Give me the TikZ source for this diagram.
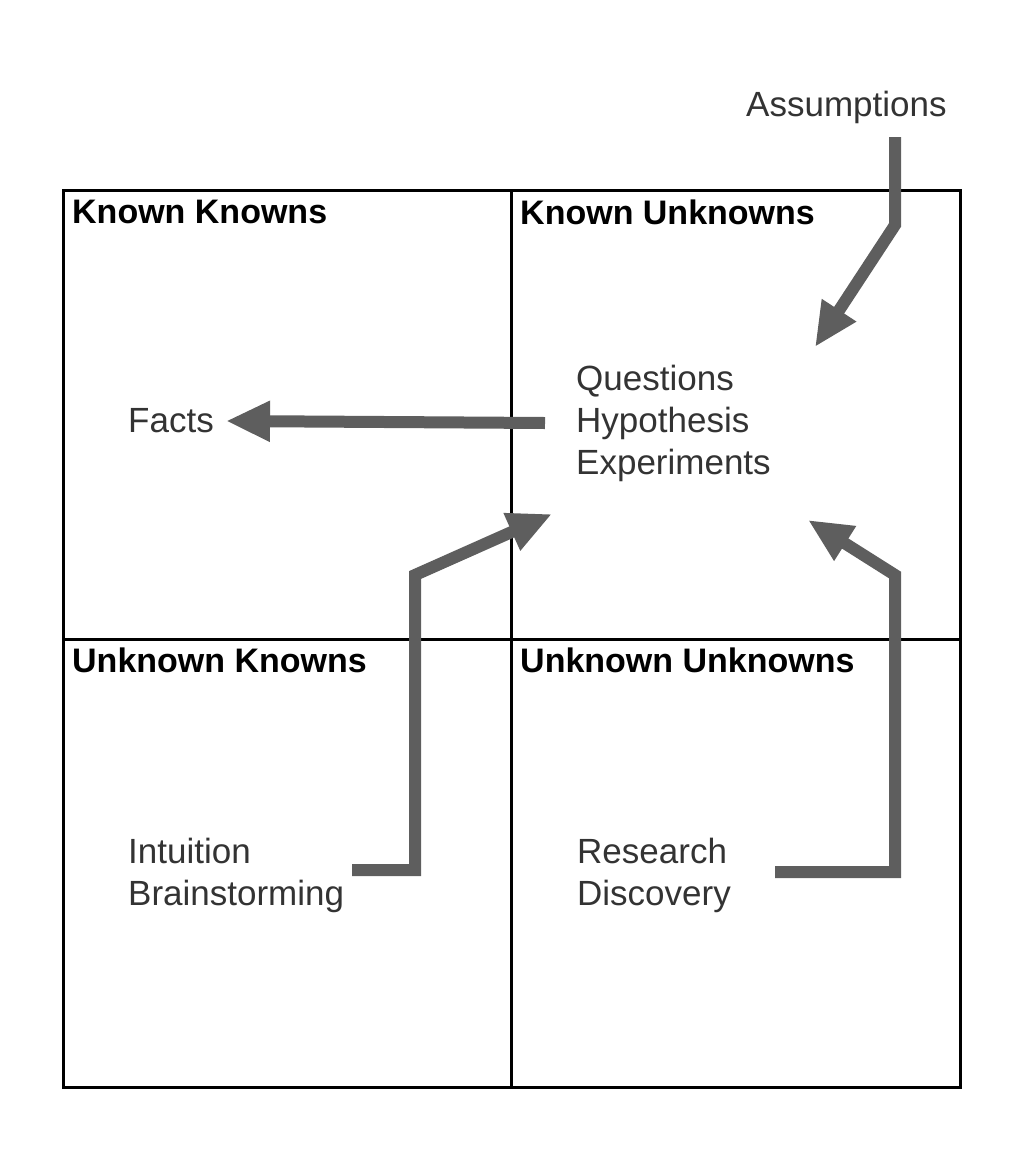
\documentclass[tikz,border=0pt]{standalone}
\usepackage{fontspec}
\setmainfont{Liberation Sans}
\usetikzlibrary{arrows.meta}
\definecolor{arrowgray}{HTML}{5E5E5E}
\definecolor{textgray}{HTML}{333333}
\tikzset{
  head/.style={anchor=north west,inner sep=0pt,font=\fontsize{34}{38}\selectfont\bfseries},
  label/.style={anchor=west,inner sep=0pt,align=left,text=textgray,font=\fontsize{35}{42}\selectfont},
  flow/.style={draw=arrowgray,line width=12pt,-{Triangle[length=44pt,width=38pt]}},
}
\begin{document}
\begin{tikzpicture}[x=1pt,y=-1pt]
\useasboundingbox (0,0) rectangle (1024,1152);
% grid
\draw[line width=3pt] (63,190) rectangle (960,1087);
\draw[line width=3pt] (511,190) -- (511,1087) (63,639) -- (960,639);
% headings
\node[head] (kk) at (72,200) {Known Knowns};
\node[head] (ku) at (520,200) {Known Unknowns};
\node[head] (uk) at (72,648) {Unknown Knowns};
\node[head] (uu) at (520,648) {Unknown Unknowns};
% labels
\node[label] (assume) at (746,107) {Assumptions};
\node[label] (facts) at (128,421) {Facts};
\node[label] (quest) at (576,423) {Questions\\Hypothesis\\Experiments};
\node[label] (intu) at (128,875) {Intuition\\Brainstorming};
\node[label] (resea) at (577,875) {Research\\Discovery};
% arrows
\coordinate (a0) at (895,137);
\coordinate (a1) at (815,347);
\draw[flow] (a0) -- (895,225) -- (a1);
\draw[flow] (545,423) -- ([xshift=12pt]facts.east);
\draw[flow] (352,870) -- (415,870) -- (415,575) -- (552,514);
\draw[flow] (775,872) -- (895,872) -- (895,575) -- (808,520);
\end{tikzpicture}
\end{document}
